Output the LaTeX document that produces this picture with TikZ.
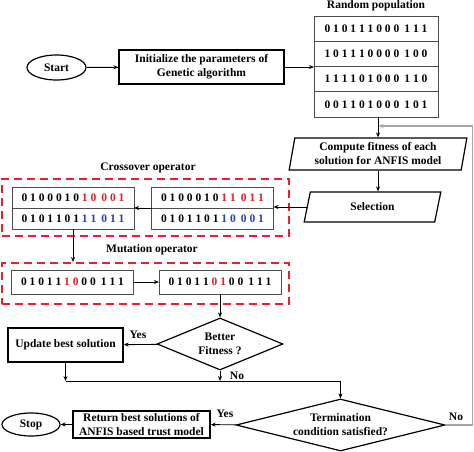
\documentclass[tikz,border=0pt]{standalone}
\usepackage{fontspec}
\setmainfont{Liberation Serif}
\usetikzlibrary{shapes.geometric, arrows.meta, positioning}
\definecolor{bitred}{RGB}{228,30,36}
\definecolor{bitblue}{RGB}{36,62,190}
\definecolor{framered}{RGB}{232,32,40}
\newcommand{\grpgap}{\hspace{0.45em}}

\begin{document}
\begin{tikzpicture}[
       x=1pt, y=-1pt,
       font=\fontsize{11.5}{14}\selectfont\bfseries,
       terminal/.style={ellipse, draw=black, line width=1.2pt, inner sep=0pt, minimum width=59pt, minimum height=25pt},
       process/.style={rectangle, draw=black, line width=1.2pt, align=center, inner sep=0pt},
       io/.style={trapezium, trapezium stretches=true, draw=black, line width=1.2pt, align=center, inner sep=0pt},
       decision/.style={diamond, draw=black, line width=1.2pt, align=center, inner sep=0pt},
       bitbox/.style={rectangle, draw=black!70, line width=0.9pt, outer sep=0pt, inner sep=0pt},
       poprow/.style={bitbox, minimum width=124pt, minimum height=25.25pt},
       crossrow/.style={bitbox, minimum width=122pt, minimum height=21pt},
       mutrow/.style={bitbox, minimum width=122pt, minimum height=24pt},
       dashframe/.style={rectangle, draw=framered, line width=1.8pt, dash pattern=on 8pt off 5pt},
       arrow/.style={-{Stealth[length=5pt,width=4pt]}, line width=0.9pt, black},
       loopline/.style={-{Stealth[length=5pt,width=4pt]}, line width=1.1pt, black!35}
   ]
   \useasboundingbox (0,0) rectangle (474,452);

   % initialisation
   \node[terminal] (start) at (56.5,67.5) {Start};
   \node[process, minimum width=165pt, minimum height=34pt] (init) at (201.5,67) {Initialize the parameters of\\Genetic algorithm};

   % random population
   \node (poptitle) at (376,6) {Random population};
   \node[poprow] (pop1) at (376,28.6) {0 1 0 1 1 1 0 0 0\grpgap 1 1 1};
   \node[poprow, below=0pt of pop1] (pop2) {1 0 1 1 1 0 0 0 0\grpgap 1 0 0};
   \node[poprow, below=0pt of pop2] (pop3) {1 1 1 1 0 1 0 0 0\grpgap 1 1 0};
   \node[poprow, below=0pt of pop3] (pop4) {0 0 1 1 0 1 0 0 0\grpgap 1 0 1};

   \node[io, minimum width=178pt, minimum height=32pt, trapezium left angle=79, trapezium right angle=101] (fitness) at (378,154) {Compute fitness of each\\solution for ANFIS model};
   \node[io, minimum width=137pt, minimum height=30pt, trapezium left angle=75, trapezium right angle=105] (select) at (372.5,207) {Selection};

   % crossover
   \node[dashframe, minimum width=287pt, minimum height=57pt] (crossframe) at (145.5,207.5) {};
   \node (crosstitle) at (148,168) {Crossover operator};
   \node[crossrow] (parentA) at (212.5,197.5) {0 1 0 0 0 1 0 \textcolor{bitred}{1 1\grpgap 0 1 1}};
   \node[crossrow, below=0pt of parentA] (parentB) {0 1 0 1 1 0 1 \textcolor{bitblue}{1 0\grpgap 0 0 1}};
   \node[crossrow] (childA) at (73,197.5) {0 1 0 0 0 1 0 \textcolor{bitred}{1 0\grpgap 0 0 1}};
   \node[crossrow, below=0pt of childA] (childB) {0 1 0 1 1 0 1 \textcolor{bitblue}{1 1\grpgap 0 1 1}};

   % mutation
   \node[dashframe, minimum width=287pt, minimum height=41pt] (mutframe) at (145.5,283.5) {};
   \node (muttitle) at (152,250) {Mutation operator};
   \node[mutrow] (mutin) at (72.5,282) {0 1 0 1 1 \textcolor{bitred}{1 0} 0 0\grpgap 1 1 1};
   \node[mutrow] (mutout) at (220,282) {0 1 0 1 1 \textcolor{bitred}{0 1} 0 0\grpgap 1 1 1};

   % decisions
   \node[decision, aspect=2.4, minimum width=126pt, minimum height=52pt] (better) at (220,344) {Better\\Fitness ?};
   \node[process, minimum width=115pt, minimum height=34pt] (update) at (65.5,345) {Update best solution};
   \node[decision, aspect=4, minimum width=209pt, minimum height=52pt] (term) at (340.5,425) {Termination\\condition satisfied?};
   \node[process, minimum width=137pt, minimum height=27pt] (result) at (141.5,424.5) {Return best solutions of\\ANFIS based trust model};
   \node[terminal, minimum width=58pt, minimum height=23pt] (stop) at (31,424.5) {Stop};

   \node (yesbetter) at (138,335) {Yes};
   \node (nobetter) at (237,376) {No};
   \node (yesterm) at (225,414) {Yes};
   \node (noterm) at (456,417) {No};

   \coordinate (merge) at (340.5,381);
   \coordinate (back) at (378.5,126);

   \draw[arrow] (start) -- (init);
   \draw[arrow] (init.east) -- (init.east -| pop2.west);
   \draw[arrow] (pop4.south -| fitness.north) -- (fitness.north);
   \draw[arrow] (fitness.south) -- (fitness.south |- select.north);
   \draw[arrow] (select.west) -- (select.west -| parentA.east);
   \draw[arrow] (parentA.south west) -- (childA.south east);
   \draw[arrow] (childB.south) -- (childB.south |- mutframe.north);
   \draw[arrow] (mutin) -- (mutout);
   \draw[arrow] (mutout) -- (better);
   \draw[arrow] (better) -- (update);
   \draw[arrow] (update.south) -- (update.south |- merge);
   \draw[arrow] (better.south) -- (better.south |- merge);
   \draw[arrow] (update.south |- merge) -- (merge) -- (term.north);
   \draw[arrow] (term) -- (result);
   \draw[arrow] (result) -- (stop);
   \draw[loopline] (term.east) -- ++(27,0) |- (back);
\end{tikzpicture}
\end{document}
